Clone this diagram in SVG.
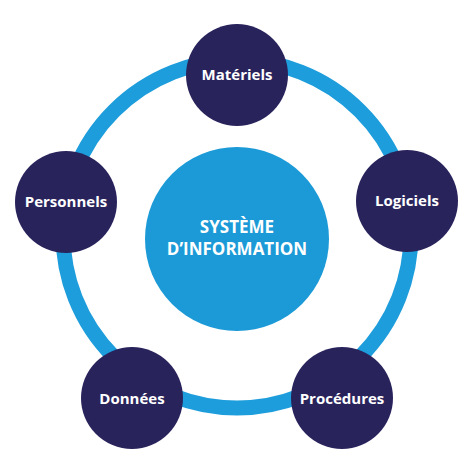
<svg xmlns="http://www.w3.org/2000/svg" width="474" height="474" viewBox="0 0 474 474">
<style>
.node{fill:#29235c}
.lbl{font-family:"Open Sans","Liberation Sans",sans-serif;font-weight:700;font-size:15px;fill:#ffffff;text-anchor:middle}
.ctr{font-family:"Open Sans","Liberation Sans",sans-serif;font-weight:700;font-size:17px;fill:#ffffff;text-anchor:middle}
</style>
<rect width="474" height="474" fill="#ffffff"/>
<g id="connectors">
<circle cx="237" cy="234" r="174" fill="none" stroke="#1d9ddb" stroke-width="15"/>
</g>
<g id="center">
<circle cx="237" cy="239" r="92" fill="#1b9ad7"/>
<text class="ctr" x="237" y="233">SYSTÈME</text>
<text class="ctr" x="237" y="255">D’INFORMATION</text>
</g>
<g id="materiels">
<circle class="node" cx="237" cy="75" r="51"/>
<text class="lbl" x="237" y="80">Matériels</text>
</g>
<g id="logiciels">
<circle class="node" cx="407" cy="201" r="51"/>
<text class="lbl" x="407" y="206">Logiciels</text>
</g>
<g id="procedures">
<circle class="node" cx="342" cy="398" r="51"/>
<text class="lbl" x="342" y="404">Procédures</text>
</g>
<g id="donnees">
<circle class="node" cx="132" cy="398" r="51"/>
<text class="lbl" x="132" y="404">Données</text>
</g>
<g id="personnels">
<circle class="node" cx="66" cy="202" r="51"/>
<text class="lbl" x="66" y="207">Personnels</text>
</g>
</svg>
